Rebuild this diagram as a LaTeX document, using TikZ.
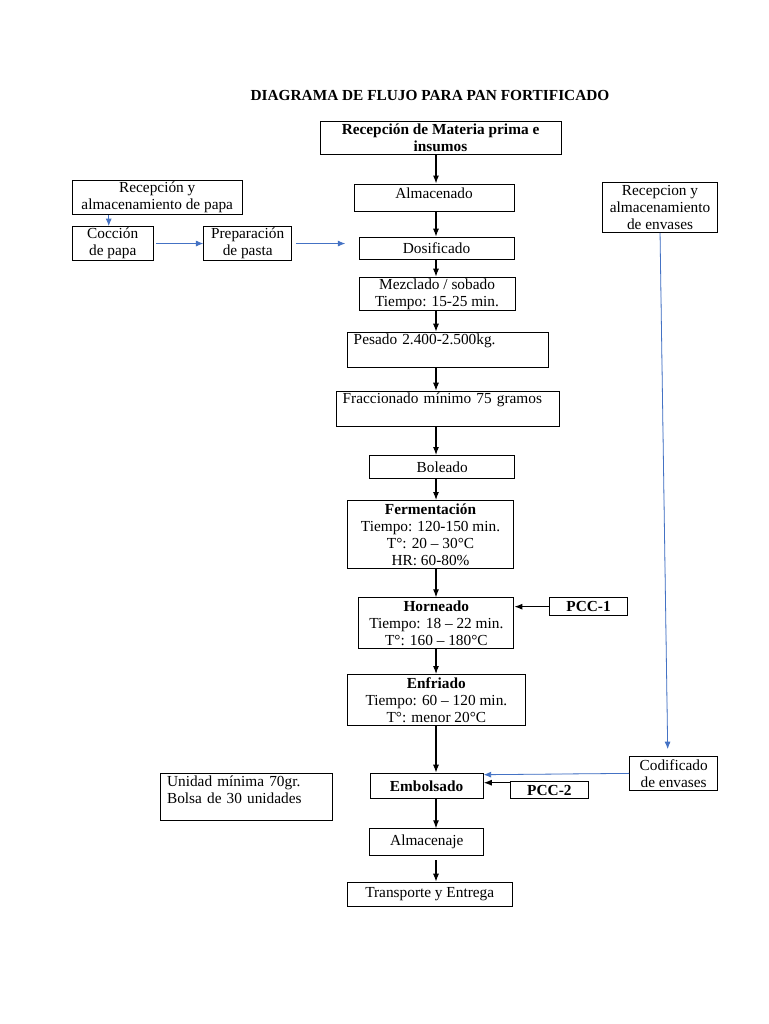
\documentclass[tikz,border=0pt]{standalone}
\usepackage{fontspec}
\setmainfont{Liberation Serif}
\usetikzlibrary{arrows.meta}
\definecolor{FlujoAzul}{RGB}{68,114,196}
\tikzset{tam/.style 2 args={minimum width=#1*0.75pt, minimum height=#2*0.75pt}}

\begin{document}
\begin{tikzpicture}[x=0.75pt, y=-0.75pt, >={Latex[length=6pt,width=4.5pt]}, font=\fontsize{11.5}{12.75}\selectfont]
    \tikzstyle{paso} = [draw, rectangle, line width=0.8pt, align=center, inner xsep=2pt, inner ysep=1pt, anchor=north west]
    \tikzstyle{pasoizq} = [paso, align=left, inner xsep=4.5pt]
    \tikzstyle{flecha} = [->, line width=0.8pt]
    \tikzstyle{azul} = [-{Latex[length=5.5pt,width=4.5pt]}, draw=FlujoAzul, fill=FlujoAzul, line width=0.6pt]

    \useasboundingbox[fill=white] (0,0) rectangle (768,1024);

    \node (tit) at (430,95) {\textbf{DIAGRAMA DE FLUJO PARA PAN FORTIFICADO}};

    \node[paso, tam={241}{33.5}] (rmp) at (319.5,120.7) {\textbf{Recepción de Materia prima e}\\\textbf{insumos}};
    \node[paso, tam={160}{27.5}] (alm) at (353.5,183.5) {Almacenado\\[-9pt]\strut};
    \node[paso, tam={155}{22.6}] (dos) at (358.5,236.7) {Dosificado};
    \node[paso, tam={156}{33.5}] (mez) at (358.5,276.7) {Mezclado / sobado\\Tiempo: 15-25 min.};
    \node[pasoizq, tam={201}{34}, text width=141pt] (pes) at (346.7,331.7) {Pesado 2.400-2.500kg.\\\strut};
    \node[pasoizq, tam={223.6}{33.6}, text width=158pt] (fra) at (335.7,390.7) {Fraccionado mínimo 75 gramos\\\strut};
    \node[paso, tam={144.7}{22.7}] (bol) at (369.3,455) {Boleado};
    \node[paso, tam={166.6}{67.7}] (fer) at (346.7,500) {\textbf{Fermentación}\\Tiempo: 120-150 min.\\T°: 20 – 30°C\\HR: 60-80\%};
    \node[paso, tam={155}{51}] (hor) at (358.3,597.3) {\textbf{Horneado}\\Tiempo: 18 – 22 min.\\T°: 160 – 180°C};
    \node[paso, tam={77.4}{17.7}] (pcc1) at (549.3,597.3) {\textbf{PCC-1}};
    \node[paso, tam={178.3}{51}] (enf) at (346.7,674) {\textbf{Enfriado}\\Tiempo: 60 – 120 min.\\T°: menor 20°C};
    \node[paso, tam={113.2}{25.6}] (emb) at (369.5,772.7) {\textbf{Embolsado}};
    \node[paso, tam={77.7}{17.6}] (pcc2) at (510,780.7) {\textbf{PCC-2}};
    \node[paso, tam={88.3}{34.3}] (cod) at (629,755.7) {Codificado\\de envases};
    \node[pasoizq, tam={171.7}{46.7}, text width=119pt] (uni) at (160,773.3) {Unidad mínima 70gr.\\Bolsa de 30 unidades\\[-6pt]\strut};
    \node[paso, tam={114}{26.7}] (almj) at (369.3,828.3) {Almacenaje};
    \node[paso, tam={165}{24.3}] (tra) at (346.7,881.7) {Transporte y Entrega};

    \node[paso, tam={170}{34}] (rap) at (71.7,180) {Recepción y\\almacenamiento de papa};
    \node[paso, tam={81}{34}] (coc) at (71.7,226) {Cocción\\de papa};
    \node[paso, tam={87.7}{34}] (pre) at (203.3,226) {Preparación\\de pasta};
    \node[paso, tam={115.6}{50}] (rae) at (601.7,181.7) {Recepcion y\\almacenamiento\\de envases};

    \coordinate (eje) at (436,0);
    \draw[flecha] (rmp.south -| eje) -- (alm.north -| eje);
    \draw[flecha] (alm.south -| eje) -- (dos.north -| eje);
    \draw[flecha] (dos.south -| eje) -- (mez.north -| eje);
    \draw[flecha] (mez.south -| eje) -- (pes.north -| eje);
    \draw[flecha] (pes.south -| eje) -- (fra.north -| eje);
    \draw[flecha] (fra.south -| eje) -- (bol.north -| eje);
    \draw[flecha] (bol.south -| eje) -- (fer.north -| eje);
    \draw[flecha] (fer.south -| eje) -- (hor.north -| eje);
    \draw[flecha] (hor.south -| eje) -- (enf.north -| eje);
    \draw[flecha] (enf.south -| eje) -- (emb.north -| eje);
    \draw[flecha] (emb.south -| eje) -- (almj.north -| eje);
    \draw[flecha, shorten <=3pt] (almj.south -| eje) -- (tra.north -| eje);

    \draw[flecha] (pcc1.west) -- (pcc1.west -| hor.east);
    \draw[flecha] ([yshift=-1.5pt]pcc2.north west) -- ([yshift=-1.5pt]pcc2.north west -| emb.east);

    \draw[azul] ([xshift=-3pt]rap.south -| coc.north) -- ([xshift=-3pt]coc.north);
    \draw[azul, shorten <=2pt] (coc.east) -- (pre.west);
    \draw[azul, shorten <=3pt, shorten >=10pt] (pre.east) -- (pre.east -| dos.west);
    \draw[azul] (rae.south) -- ([xshift=-4.5pt, yshift=5pt]cod.north);
    \draw[azul] (cod.west) -- ([yshift=-1.5pt]emb.north east);
\end{tikzpicture}
\end{document}
